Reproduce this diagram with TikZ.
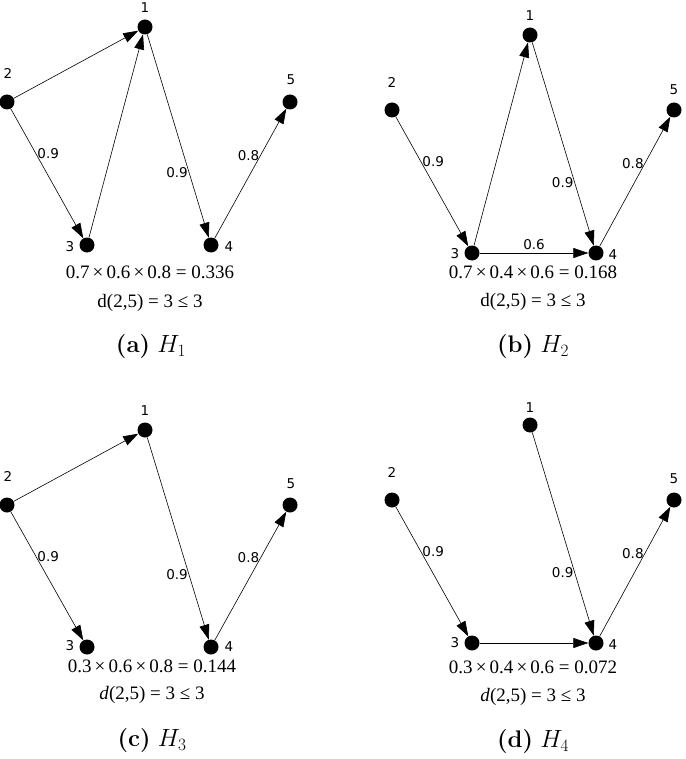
\documentclass[tikz,border=0pt]{standalone}
\usepackage{fontspec}
\newfontfamily\timesfont{Liberation Serif}
\newfontfamily\lblfont{DejaVu Sans}
\usetikzlibrary{arrows.meta}
\begin{document}
\begin{tikzpicture}[x=1pt,y=-1pt,
  vtx/.style={circle,fill=black,inner sep=0pt,minimum size=15pt},
  num/.style={font=\lblfont\fontsize{13.5}{13.5}\selectfont,inner sep=0pt},
  wt/.style={font=\lblfont\fontsize{13.5}{13.5}\selectfont,inner sep=1pt},
  arc/.style={line width=0.6pt,-{Triangle[length=15pt,width=10pt]}},
  formula/.style={font=\timesfont\fontsize{19}{19}\selectfont,inner sep=0pt},
  captxt/.style={font=\fontsize{24}{24}\selectfont,inner sep=0pt}]
\useasboundingbox (0,0) rectangle (685,759);

% ---------- (a) ----------
\node[vtx] (a1) at (145,27) {};
\node[vtx] (a2) at (7,102) {};
\node[vtx] (a3) at (87,245) {};
\node[vtx] (a4) at (211,245) {};
\node[vtx] (a5) at (290,102) {};
\node[num] (la1) at (145,8) {1};
\node[num] (la2) at (8,73) {2};
\node[num] (la3) at (70,247) {3};
\node[num] (la4) at (229,247) {4};
\node[num] (la5) at (291,80) {5};
\draw[arc] (a2) -- (a1);
\draw[arc] (a3) -- (a1);
\draw[arc] (a2) -- node[wt,pos=0.35,anchor=west] (wa23) {0.9} (a3);
\draw[arc] (a1) -- node[wt,pos=0.68,anchor=east] (wa14) {0.9} (a4);
\draw[arc] (a4) -- node[wt,pos=0.64,anchor=east] (wa45) {0.8} (a5);
\node[formula] (fa) at (150,272) {0.7\,×\,0.6\,×\,0.8 = 0.336};
\node[formula] (da) at (150,303) {d(2,5) = 3 ≤ 3};
\node[captxt] (ca) at (151,347) {\textbf{(a)}\ $H_1$};

% ---------- (b) ----------
\node[vtx] (b1) at (530,35) {};
\node[vtx] (b2) at (392,110) {};
\node[vtx] (b3) at (472,253) {};
\node[vtx] (b4) at (596,253) {};
\node[vtx] (b5) at (674,110) {};
\node[num] (lb1) at (530,16) {1};
\node[num] (lb2) at (392,82) {2};
\node[num] (lb3) at (455,254) {3};
\node[num] (lb4) at (613,255) {4};
\node[num] (lb5) at (674,90) {5};
\draw[arc] (b2) -- node[wt,pos=0.35,anchor=west] (wb23) {0.9} (b3);
\draw[arc] (b3) -- (b1);
\draw[arc] (b1) -- node[wt,pos=0.69,anchor=east] (wb14) {0.9} (b4);
\draw[arc] (b3) -- node[wt,pos=0.5,anchor=south,inner sep=3pt] (wb34) {0.6} (b4);
\draw[arc] (b4) -- node[wt,pos=0.64,anchor=east] (wb45) {0.8} (b5);
\node[formula] (fb) at (533,272) {0.7\,×\,0.4\,×\,0.6 = 0.168};
\node[formula] (db) at (533,302) {d(2,5) = 3 ≤ 3};
\node[captxt] (cb) at (533,347) {\textbf{(b)}\ $H_2$};

% ---------- (c) ----------
\node[vtx] (c1) at (145,430) {};
\node[vtx] (c2) at (7,505) {};
\node[vtx] (c3) at (87,647) {};
\node[vtx] (c4) at (211,647) {};
\node[vtx] (c5) at (290,505) {};
\node[num] (lc1) at (145,411) {1};
\node[num] (lc2) at (8,476) {2};
\node[num] (lc3) at (70,646) {3};
\node[num] (lc4) at (229,647) {4};
\node[num] (lc5) at (291,484) {5};
\draw[arc] (c2) -- (c1);
\draw[arc] (c2) -- node[wt,pos=0.35,anchor=west] (wc23) {0.9} (c3);
\draw[arc] (c1) -- node[wt,pos=0.68,anchor=east] (wc14) {0.9} (c4);
\draw[arc] (c4) -- node[wt,pos=0.64,anchor=east] (wc45) {0.8} (c5);
\node[formula] (fc) at (152,666) {0.3\,×\,0.6\,×\,0.8 = 0.144};
\node[formula] (dc) at (152,695) {\textit{d}(2,5) = 3 ≤ 3};
\node[captxt] (cc) at (152,741) {\textbf{(c)}\ $H_3$};

% ---------- (d) ----------
\node[vtx] (d1) at (530,425) {};
\node[vtx] (d2) at (392,500) {};
\node[vtx] (d3) at (472,643) {};
\node[vtx] (d4) at (596,643) {};
\node[vtx] (d5) at (674,500) {};
\node[num] (ld1) at (530,408) {1};
\node[num] (ld2) at (392,472) {2};
\node[num] (ld3) at (455,643) {3};
\node[num] (ld4) at (613,645) {4};
\node[num] (ld5) at (674,479) {5};
\draw[arc] (d2) -- node[wt,pos=0.35,anchor=west] (wd23) {0.9} (d3);
\draw[arc] (d1) -- node[wt,pos=0.69,anchor=east] (wd14) {0.9} (d4);
\draw[arc] (d3) -- (d4);
\draw[arc] (d4) -- node[wt,pos=0.64,anchor=east] (wd45) {0.8} (d5);
\node[formula] (fd) at (533,667) {0.3\,×\,0.4\,×\,0.6 = 0.072};
\node[formula] (dd) at (533,697) {\textit{d}(2,5) = 3 ≤ 3};
\node[captxt] (cd) at (533,742) {\textbf{(d)}\ $H_4$};
\end{tikzpicture}
\end{document}
